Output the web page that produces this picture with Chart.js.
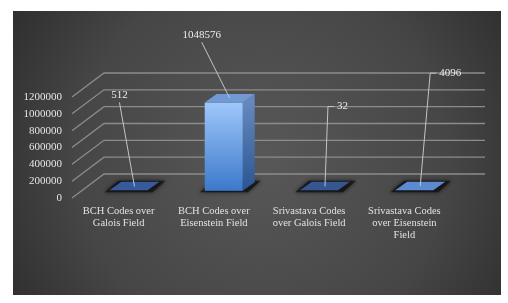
<!DOCTYPE html>
<html>
<head>
<meta charset="utf-8">
<script src="https://cdn.jsdelivr.net/npm/chart.js@4.4.1/dist/chart.umd.min.js"></script>
<style>
html, body { margin: 0; padding: 0; background: #fff; }
#wrap { width: 508px; height: 303px; }
</style>
</head>
<body>
<div id="wrap"><canvas id="barChart" width="508" height="303"></canvas></div>
<script>
'use strict';

// chart data
const categories = [
    ['BCH Codes over', 'Galois Field'],
    ['BCH Codes over', 'Eisenstein Field'],
    ['Srivastava Codes', 'over Galois Field'],
    ['Srivastava Codes', 'over Eisenstein', 'Field']
];
const values = [512, 1048576, 32, 4096];
const yMin = 0;
const yMax = 1200000;
const yStep = 200000;

//----------------

// 3d look: depth of the floor and where the bars stand inside it
const DEPTH_X = 33;
const DEPTH_Y = -24;
const BAR_FRONT = 0.3;
const BAR_BACK = 0.66;
const FONT = '"Liberation Serif", "Times New Roman", serif';

// top face colour of each bar (the thin ones only show this face)
const topColors = ['#365a9b', '#7199d4', '#35568f', '#5c8ad0'];

// where each data label sits, relative to the middle of the bar top
// [dx, dy, elbow] - elbow means leader bends right and text is left aligned
const labelPlace = [
    [-15, -84, false],
    [-28, -56, false],
    [3, -80, true],
    [10, -113, true]
];

const panelPlugin = {
    id: 'panel',
    beforeDraw(chart) {
        const ctx = chart.ctx;
        const g = ctx.createRadialGradient(262, 160, 10, 262, 160, 330);
        g.addColorStop(0, '#575757');
        g.addColorStop(0.55, '#464646');
        g.addColorStop(1, '#262626');
        ctx.save();
        ctx.fillStyle = g;
        ctx.fillRect(13, 11, 488, 284);
        ctx.restore();
    }
};

const gridPlugin = {
    id: 'grid3d',
    beforeDatasetsDraw(chart) {
        const ctx = chart.ctx;
        const y = chart.scales.y;
        const area = chart.chartArea;
        ctx.save();
        ctx.strokeStyle = '#8c8c8c';
        ctx.lineWidth = 1.3;
        y.ticks.forEach(t => {
            const py = y.getPixelForValue(t.value);
            ctx.beginPath();
            ctx.moveTo(area.left + 1, py);
            ctx.lineTo(area.left + DEPTH_X, py + DEPTH_Y);
            ctx.lineTo(area.right + DEPTH_X, py + DEPTH_Y);
            ctx.stroke();
        });
        ctx.restore();
    }
};

function poly(ctx, pts) {
    ctx.beginPath();
    ctx.moveTo(pts[0][0], pts[0][1]);
    for (let i = 1; i < pts.length; i++) ctx.lineTo(pts[i][0], pts[i][1]);
    ctx.closePath();
}

const barsPlugin = {
    id: 'bars3d',
    afterDatasetsDraw(chart) {
        const ctx = chart.ctx;
        const meta = chart.getDatasetMeta(0);
        const fx = DEPTH_X * BAR_FRONT, fy = DEPTH_Y * BAR_FRONT;
        const bx = DEPTH_X * BAR_BACK, by = DEPTH_Y * BAR_BACK;
        ctx.save();
        meta.data.forEach((bar, i) => {
            const p = bar.getProps(['x', 'y', 'base', 'width'], true);
            const x0 = p.x - p.width / 2, x1 = p.x + p.width / 2;
            const top = Math.min(p.y, p.base - 0.5), base = p.base;

            // shadow under the bar
            ctx.save();
            ctx.fillStyle = 'rgba(18,18,18,0.75)';
            ctx.shadowColor = 'rgba(0,0,0,0.8)';
            ctx.shadowBlur = 4;
            poly(ctx, [[x0 + fx - 5, base + fy + 1.5], [x1 + fx + 5, base + fy + 1.5],
                       [x1 + bx + 6, base + by - 1.5], [x0 + bx - 3, base + by - 1.5]]);
            ctx.fill();
            ctx.restore();

            if (base - top > 2) {
                // front face
                let g = ctx.createLinearGradient(0, top + fy, 0, base + fy);
                g.addColorStop(0, '#9fc7fb');
                g.addColorStop(1, '#3b79ca');
                ctx.fillStyle = g;
                ctx.fillRect(x0 + fx, top + fy, p.width, base - top);
                // side face
                g = ctx.createLinearGradient(0, top + fy, 0, base + fy);
                g.addColorStop(0, '#6588bd');
                g.addColorStop(1, '#2b5592');
                ctx.fillStyle = g;
                poly(ctx, [[x1 + fx, top + fy], [x1 + bx, top + by], [x1 + bx, base + by], [x1 + fx, base + fy]]);
                ctx.fill();
            }
            // top face
            ctx.fillStyle = topColors[i];
            poly(ctx, [[x0 + fx, top + fy], [x1 + fx, top + fy], [x1 + bx, top + by], [x0 + bx, top + by]]);
            ctx.fill();
        });
        ctx.restore();
    }
};

const labelPlugin = {
    id: 'valueLabels',
    afterDatasetsDraw(chart) {
        const ctx = chart.ctx;
        const meta = chart.getDatasetMeta(0);
        const mx = DEPTH_X * (BAR_FRONT + BAR_BACK) / 2;
        const my = DEPTH_Y * (BAR_FRONT + BAR_BACK) / 2;
        ctx.save();
        ctx.font = '11px ' + FONT;
        ctx.fillStyle = '#ececec';
        ctx.strokeStyle = '#c4c4c4';
        ctx.lineWidth = 1;
        ctx.textBaseline = 'middle';
        meta.data.forEach((bar, i) => {
            const p = bar.getProps(['x', 'y'], true);
            const ax = p.x + mx, ay = p.y + my;
            const [dx, dy, elbow] = labelPlace[i];
            const ex = ax + dx, ey = ay + dy;
            ctx.beginPath();
            ctx.moveTo(ax, ay);
            ctx.lineTo(ex, ey);
            if (elbow) ctx.lineTo(ex + 6, ey);
            ctx.stroke();
            const text = String(values[i]);
            if (elbow) {
                ctx.textAlign = 'left';
                ctx.fillText(text, ex + 9, ey);
            } else {
                ctx.textAlign = 'center';
                ctx.fillText(text, ex, ey - 7);
            }
        });
        ctx.restore();
    }
};

const CHART = document.getElementById('barChart');

const barChart = new Chart(CHART, {
    type: 'bar',
    data: {
        labels: categories,
        datasets: [{
            label: 'Values',
            data: values,
            backgroundColor: 'rgba(0,0,0,0)',
            barPercentage: 0.4,
            categoryPercentage: 1.0
        }]
    },
    options: {
        responsive: false,
        animation: false,
        devicePixelRatio: 1,
        layout: { padding: { left: 0, right: 56, top: 97, bottom: 0 } },
        plugins: {
            legend: { display: false },
            tooltip: { enabled: false }
        },
        scales: {
            x: {
                grid: { display: false, drawTicks: false },
                border: { display: false },
                ticks: {
                    color: '#e2e2e2',
                    font: { family: FONT, size: 10.5, lineHeight: 1.15 },
                    padding: 7,
                    maxRotation: 0,
                    autoSkip: false
                },
                afterFit(scale) { scale.height = 105; }
            },
            y: {
                min: yMin,
                max: yMax,
                grid: { display: false, drawTicks: false },
                border: { display: false },
                ticks: {
                    stepSize: yStep,
                    color: '#e6e6e6',
                    font: { family: FONT, size: 11 },
                    padding: 9,
                    callback: v => String(v)
                },
                afterFit(scale) { scale.width = 71; }
            }
        }
    },
    plugins: [panelPlugin, gridPlugin, barsPlugin, labelPlugin]
});
</script>
</body>
</html>
